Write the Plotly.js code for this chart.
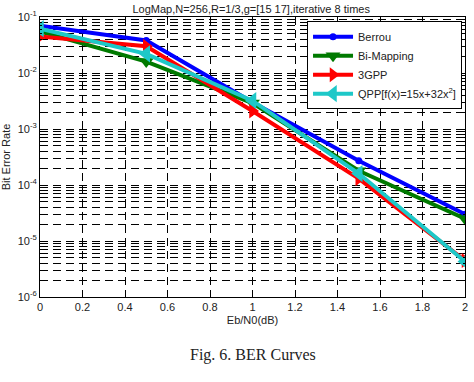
<!DOCTYPE html>
<html>
<head>
<meta charset="utf-8">
<script src="https://cdn.plot.ly/plotly-3.0.1.min.js"></script>
<style>html,body{margin:0;padding:0;background:#fff;}#chart{width:474px;height:382px;}</style>
</head>
<body>
<div id="chart"></div>
<script>
const ebn0 = [0, 0.5, 1, 1.5, 2];
const berrou = [0.070, 0.038, 0.0030, 0.00027, 0.000030];
const biMapping = [0.055, 0.016, 0.0029, 0.00018, 0.000025];
const gpp3 = [0.045, 0.030, 0.0021, 0.00013, 0.0000045];
const qpp = [0.062, 0.022, 0.0032, 0.00016, 0.0000043];
const seriesNames = ['Berrou', 'Bi-Mapping', '3GPP', 'QPP[f(x)=15x+32x<sup>2</sup>]'];
const yTickVals = [1e-6, 1e-5, 1e-4, 1e-3, 1e-2, 1e-1];
const yTickText = ['10<sup>-6</sup>', '10<sup>-5</sup>', '10<sup>-4</sup>', '10<sup>-3</sup>', '10<sup>-2</sup>', '10<sup>-1</sup>'];
const xTickVals = [0, 0.2, 0.4, 0.6, 0.8, 1, 1.2, 1.4, 1.6, 1.8, 2];

const minorY = [];
for (let e = -6; e < -1; e++) for (let m = 2; m <= 9; m++) minorY.push(m * Math.pow(10, e));

const styles = [
  {color: '#0000ff', symbol: 'circle', size: 7},
  {color: '#007a00', symbol: 'triangle-down', size: 13},
  {color: '#ff0000', symbol: 'triangle-right', size: 13},
  {color: '#1ec8c8', symbol: 'triangle-left', size: 15}
];
const ys = [berrou, biMapping, gpp3, qpp];
const traces = ys.map((y, i) => ({
  x: ebn0, y: y, name: seriesNames[i], type: 'scatter', mode: 'lines+markers',
  line: {color: styles[i].color, width: 4},
  marker: {color: styles[i].color, symbol: styles[i].symbol, size: styles[i].size}
}));

const gridDash = '8px,5px';
const layout = {
  width: 474, height: 382,
  margin: {l: 40, r: 9, t: 17, b: 85},
  paper_bgcolor: '#fff', plot_bgcolor: '#fff',
  font: {family: 'Liberation Sans, Arial, sans-serif', size: 11, color: '#222'},
  title: {text: 'LogMap,N=256,R=1/3,g=[15 17],iterative 8 times', font: {size: 11, color: '#222'}, x: 0.53, xanchor: 'center', y: 0.985, yanchor: 'top'},
  showlegend: true,
  legend: {x: 0.993, xanchor: 'right', y: 0.985, yanchor: 'top', bgcolor: '#fff', bordercolor: '#000', borderwidth: 1, font: {size: 11, color: '#222'}, tracegroupgap: 0, itemwidth: 40},
  xaxis: {
    range: [0, 2], tickvals: xTickVals, ticktext: xTickVals.map(String),
    ticks: 'inside', ticklen: 4, tickcolor: '#000',
    showgrid: true, gridcolor: '#000', griddash: gridDash, gridwidth: 1,
    showline: true, linecolor: '#000', mirror: 'ticks', zeroline: false,
    title: {text: 'Eb/N0(dB)', font: {size: 11}, standoff: 4}
  },
  yaxis: {
    type: 'log', range: [-6, -1], tickvals: yTickVals, ticktext: yTickText,
    ticks: 'inside', ticklen: 4, tickcolor: '#000',
    showgrid: true, gridcolor: '#000', griddash: gridDash, gridwidth: 1,
    showline: true, linecolor: '#000', mirror: 'ticks', zeroline: false,
    minor: {tickvals: minorY, showgrid: true, gridcolor: '#000', griddash: gridDash, gridwidth: 1, ticks: 'inside', ticklen: 2, tickcolor: '#000'},
    title: {text: 'Bit Error Rate', font: {size: 11}, standoff: 6}
  },
  annotations: [{
    text: 'Fig. 6. BER Curves', xref: 'paper', yref: 'paper', x: 0.5, y: -0.207,
    xanchor: 'center', yanchor: 'middle', showarrow: false,
    font: {family: 'Liberation Serif, Times New Roman, serif', size: 16, color: '#222'}
  }]
};
Plotly.newPlot('chart', traces, layout, {displayModeBar: false, staticPlot: true});
</script>
</body>
</html>
